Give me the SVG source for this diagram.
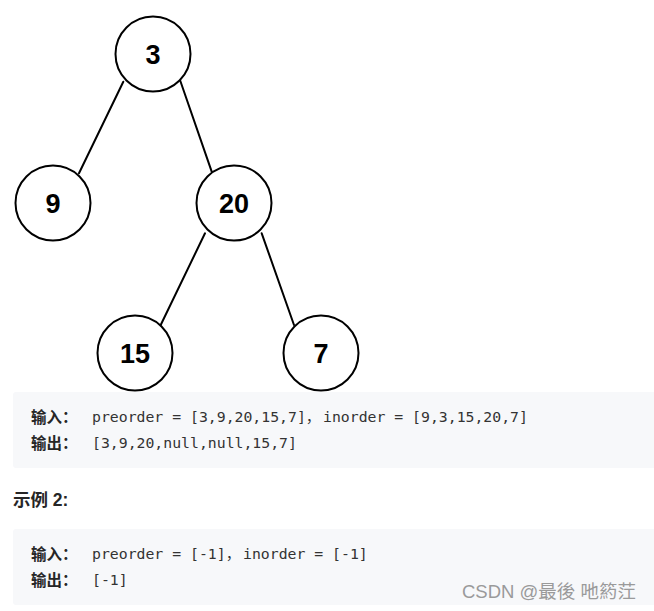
<svg xmlns="http://www.w3.org/2000/svg" width="654" height="611" viewBox="0 0 654 611">
  <style>
    .node circle { fill: #ffffff; stroke: #000000; stroke-width: 2; }
    .node text { font-family: "Liberation Sans", Arial, sans-serif; font-weight: bold; font-size: 27px; text-anchor: middle; fill: #000000; }
    .edges line { stroke: #000000; stroke-width: 2; stroke-linecap: round; }
    .box { fill: #f7f8fa; }
    .lbl { font-family: "Noto Sans CJK SC", sans-serif; font-weight: bold; font-size: 15.5px; fill: #262626; }
    .code { font-family: "DejaVu Sans Mono", "Liberation Mono", monospace; font-size: 14.8px; fill: #333333; }
    .cjk { font-family: "Noto Sans CJK SC", sans-serif; }
    .head { font-family: "Liberation Sans", "Noto Sans CJK SC", sans-serif; font-weight: bold; font-size: 17.5px; fill: #262626; }
    .wm { font-family: "Liberation Sans", "Noto Sans CJK SC", sans-serif; font-size: 18.5px; fill: #9a9a9a; }
  </style>
  <rect width="654" height="611" fill="#ffffff"/>

  <g id="edges" class="edges">
    <line x1="123.3" y1="81.7" x2="79" y2="173.3"/>
    <line x1="180" y1="80" x2="211.7" y2="171.7"/>
    <line x1="205" y1="233.3" x2="160.7" y2="325"/>
    <line x1="261.7" y1="233.3" x2="294" y2="325"/>
  </g>

  <g id="node-3" class="node">
    <circle cx="153" cy="54" r="37.5"/>
    <text x="153" y="64">3</text>
  </g>
  <g id="node-9" class="node">
    <circle cx="53" cy="203" r="37.5"/>
    <text x="53" y="213">9</text>
  </g>
  <g id="node-20" class="node">
    <circle cx="234" cy="203" r="37.5"/>
    <text x="234" y="213">20</text>
  </g>
  <g id="node-15" class="node">
    <circle cx="135" cy="353" r="37.5"/>
    <text x="135" y="363">15</text>
  </g>
  <g id="node-7" class="node">
    <circle cx="321" cy="353" r="37.5"/>
    <text x="321" y="363">7</text>
  </g>

  <g id="example1">
    <rect class="box" x="13" y="392" width="645" height="76" rx="3"/>
    <text class="lbl" x="31" y="423">输入：</text>
    <text class="code" x="92" y="422">preorder = [3,9,20,15,7]<tspan class="cjk">，</tspan><tspan x="323">inorder = [9,3,15,20,7]</tspan></text>
    <text class="lbl" x="31" y="449">输出：</text>
    <text class="code" x="92" y="448">[3,9,20,null,null,15,7]</text>
  </g>

  <text class="head" x="13" y="506">示例 2:</text>

  <g id="example2">
    <rect class="box" x="13" y="529" width="645" height="76" rx="3"/>
    <text class="lbl" x="31" y="560">输入：</text>
    <text class="code" x="92" y="559">preorder = [-1]<tspan class="cjk">，</tspan><tspan x="243">inorder = [-1]</tspan></text>
    <text class="lbl" x="31" y="586">输出：</text>
    <text class="code" x="92" y="585">[-1]</text>
  </g>

  <text class="wm" x="462" y="598">CSDN @最後 吔箹茳</text>
</svg>
